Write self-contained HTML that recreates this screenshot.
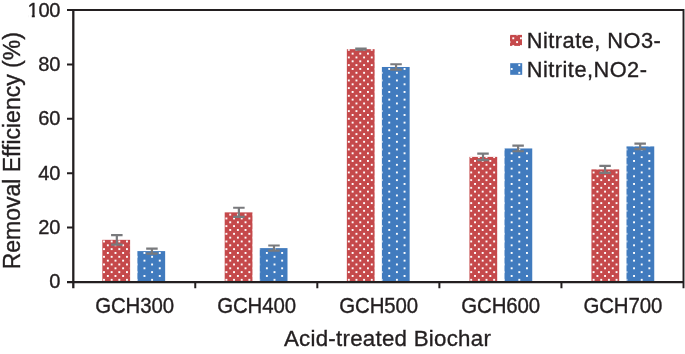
<!DOCTYPE html>
<html lang="en"><head><meta charset="utf-8"><title>Removal Efficiency of Acid-treated Biochar</title>
<style>html,body{margin:0;padding:0;background:#fff;}body{width:685px;height:354px;overflow:hidden;}svg{display:block;}text{font-family:"Liberation Sans",sans-serif;fill:#231f20;}</style></head><body>
<svg width="685" height="354" viewBox="0 0 685 354">
<defs>
<pattern id="pr" patternUnits="userSpaceOnUse" x="103.050" y="278.850" width="7.650" height="7.667"><rect x="0" y="0" width="1.90" height="1.90" fill="#fff"/><rect x="3.825" y="3.833" width="1.90" height="1.90" fill="#fff"/></pattern>
<pattern id="pb" patternUnits="userSpaceOnUse" x="151.150" y="278.850" width="15.300" height="7.667"><rect x="0" y="0" width="1.90" height="1.90" fill="#fff"/><rect x="7.650" y="3.833" width="1.90" height="1.90" fill="#fff"/></pattern>
</defs>
<rect width="685" height="354" fill="#fff"/>
<rect x="102.35" y="239.84" width="27.75" height="42.16" fill="#c5494b"/>
<rect x="102.35" y="239.84" width="27.75" height="42.16" fill="url(#pr)"/>
<path d="M116.83 235.05V244.63M111.08 235.05H122.58M111.08 244.63H122.58" stroke="#797a7d" stroke-width="2.2" fill="none"/>
<rect x="137.40" y="251.10" width="27.75" height="30.90" fill="#417bbe"/>
<rect x="137.40" y="251.10" width="27.75" height="30.90" fill="url(#pb)"/>
<path d="M151.93 248.60V253.60M146.18 248.60H157.68M146.18 253.60H157.68" stroke="#797a7d" stroke-width="2.2" fill="none"/>
<rect x="224.70" y="212.37" width="27.75" height="69.63" fill="#c5494b"/>
<rect x="224.70" y="212.37" width="27.75" height="69.63" fill="url(#pr)"/>
<path d="M238.89 207.77V216.96M233.14 207.77H244.64M233.14 216.96H244.64" stroke="#797a7d" stroke-width="2.2" fill="none"/>
<rect x="259.75" y="248.11" width="27.75" height="33.89" fill="#417bbe"/>
<rect x="259.75" y="248.11" width="27.75" height="33.89" fill="url(#pb)"/>
<path d="M273.99 245.50V250.72M268.24 245.50H279.74M268.24 250.72H279.74" stroke="#797a7d" stroke-width="2.2" fill="none"/>
<rect x="346.85" y="49.17" width="27.75" height="232.83" fill="#c5494b"/>
<rect x="346.85" y="49.17" width="27.75" height="232.83" fill="url(#pr)"/>
<path d="M360.95 48.57V49.77M355.20 48.57H366.70M355.20 49.77H366.70" stroke="#797a7d" stroke-width="2.2" fill="none"/>
<rect x="381.90" y="66.98" width="27.75" height="215.02" fill="#417bbe"/>
<rect x="381.90" y="66.98" width="27.75" height="215.02" fill="url(#pb)"/>
<path d="M396.05 64.26V69.70M390.30 64.26H401.80M390.30 69.70H401.80" stroke="#797a7d" stroke-width="2.2" fill="none"/>
<rect x="469.45" y="156.88" width="27.75" height="125.12" fill="#c5494b"/>
<rect x="469.45" y="156.88" width="27.75" height="125.12" fill="url(#pr)"/>
<path d="M483.01 153.59V160.17M477.26 153.59H488.76M477.26 160.17H488.76" stroke="#797a7d" stroke-width="2.2" fill="none"/>
<rect x="504.50" y="148.45" width="27.75" height="133.55" fill="#417bbe"/>
<rect x="504.50" y="148.45" width="27.75" height="133.55" fill="url(#pb)"/>
<path d="M518.11 145.65V151.25M512.36 145.65H523.86M512.36 151.25H523.86" stroke="#797a7d" stroke-width="2.2" fill="none"/>
<rect x="591.45" y="169.39" width="27.75" height="112.61" fill="#c5494b"/>
<rect x="591.45" y="169.39" width="27.75" height="112.61" fill="url(#pr)"/>
<path d="M605.07 165.88V172.90M599.32 165.88H610.82M599.32 172.90H610.82" stroke="#797a7d" stroke-width="2.2" fill="none"/>
<rect x="626.50" y="146.41" width="27.75" height="135.59" fill="#417bbe"/>
<rect x="626.50" y="146.41" width="27.75" height="135.59" fill="url(#pb)"/>
<path d="M640.17 143.69V149.13M634.42 143.69H645.92M634.42 149.13H645.92" stroke="#797a7d" stroke-width="2.2" fill="none"/>
<path d="M67.00 10.00H683.50V288.20" stroke="#231f20" stroke-width="1.9" fill="none"/>
<path d="M73.30 10.00V288.20" stroke="#231f20" stroke-width="2.3" fill="none"/>
<path d="M67.00 282.20H683.50" stroke="#231f20" stroke-width="2.3" fill="none"/>
<path d="M67.00 227.60H73.20M67.00 173.20H73.20M67.00 118.80H73.20M67.00 64.40H73.20M195.26 282.00V288.20M317.32 282.00V288.20M439.38 282.00V288.20M561.44 282.00V288.20" stroke="#231f20" stroke-width="2.0" fill="none"/>
<text transform="translate(60.50 288.30) scale(1.0000 1.0500)" font-size="20.10" text-anchor="end" letter-spacing="0.00" stroke="#231f20" stroke-width="0.35">0</text>
<text transform="translate(60.50 233.90) scale(1.0000 1.0500)" font-size="20.10" text-anchor="end" letter-spacing="0.00" stroke="#231f20" stroke-width="0.35">20</text>
<text transform="translate(60.50 179.50) scale(1.0000 1.0500)" font-size="20.10" text-anchor="end" letter-spacing="0.00" stroke="#231f20" stroke-width="0.35">40</text>
<text transform="translate(60.50 125.10) scale(1.0000 1.0500)" font-size="20.10" text-anchor="end" letter-spacing="0.00" stroke="#231f20" stroke-width="0.35">60</text>
<text transform="translate(60.50 70.70) scale(1.0000 1.0500)" font-size="20.10" text-anchor="end" letter-spacing="0.00" stroke="#231f20" stroke-width="0.35">80</text>
<text transform="translate(60.20 17.00) scale(1.0000 1.0500)" font-size="20.10" text-anchor="end" letter-spacing="-0.30" stroke="#231f20" stroke-width="0.35">100</text>
<path d="M28.3 14.6h3.5v3.6h-3.5zM34.8 14.6h3.6v3.6h-3.6z" fill="#fff"/>
<text transform="translate(134.53 313.00) scale(1.0000 1.0600)" font-size="20.40" text-anchor="middle" letter-spacing="-0.10" stroke="#231f20" stroke-width="0.35">GCH300</text>
<text transform="translate(256.59 313.00) scale(1.0000 1.0600)" font-size="20.40" text-anchor="middle" letter-spacing="-0.10" stroke="#231f20" stroke-width="0.35">GCH400</text>
<text transform="translate(378.65 313.00) scale(1.0000 1.0600)" font-size="20.40" text-anchor="middle" letter-spacing="-0.10" stroke="#231f20" stroke-width="0.35">GCH500</text>
<text transform="translate(500.71 313.00) scale(1.0000 1.0600)" font-size="20.40" text-anchor="middle" letter-spacing="-0.10" stroke="#231f20" stroke-width="0.35">GCH600</text>
<text transform="translate(622.77 313.00) scale(1.0000 1.0600)" font-size="20.40" text-anchor="middle" letter-spacing="-0.10" stroke="#231f20" stroke-width="0.35">GCH700</text>
<text transform="translate(387.50 346.00) scale(1.0000 1.0200)" font-size="22.30" text-anchor="middle" letter-spacing="0.26" stroke="#231f20" stroke-width="0.35">Acid-treated Biochar</text>
<text transform="translate(20.10 150.80) rotate(-90) scale(1.0360 1.0500)" font-size="22.20" text-anchor="middle" letter-spacing="0.00" stroke="#231f20" stroke-width="0.35">Removal Efficiency (%)</text>
<rect x="510" y="34.9" width="12" height="11" fill="#c5494b"/><rect x="510" y="34.9" width="12" height="11" fill="url(#pr)"/>
<text transform="translate(526.80 47.80) scale(1.0000 1.0300)" font-size="21.80" text-anchor="start" letter-spacing="0.47" stroke="#231f20" stroke-width="0.35">Nitrate, NO3-</text>
<rect x="510.2" y="63.2" width="12" height="11.6" fill="#417bbe"/><rect x="510.2" y="63.2" width="12" height="11.6" fill="url(#pb)"/>
<text transform="translate(526.80 76.90) scale(1.0000 1.0300)" font-size="21.80" text-anchor="start" letter-spacing="0.47" stroke="#231f20" stroke-width="0.35">Nitrite,NO2-</text>
</svg></body></html>
